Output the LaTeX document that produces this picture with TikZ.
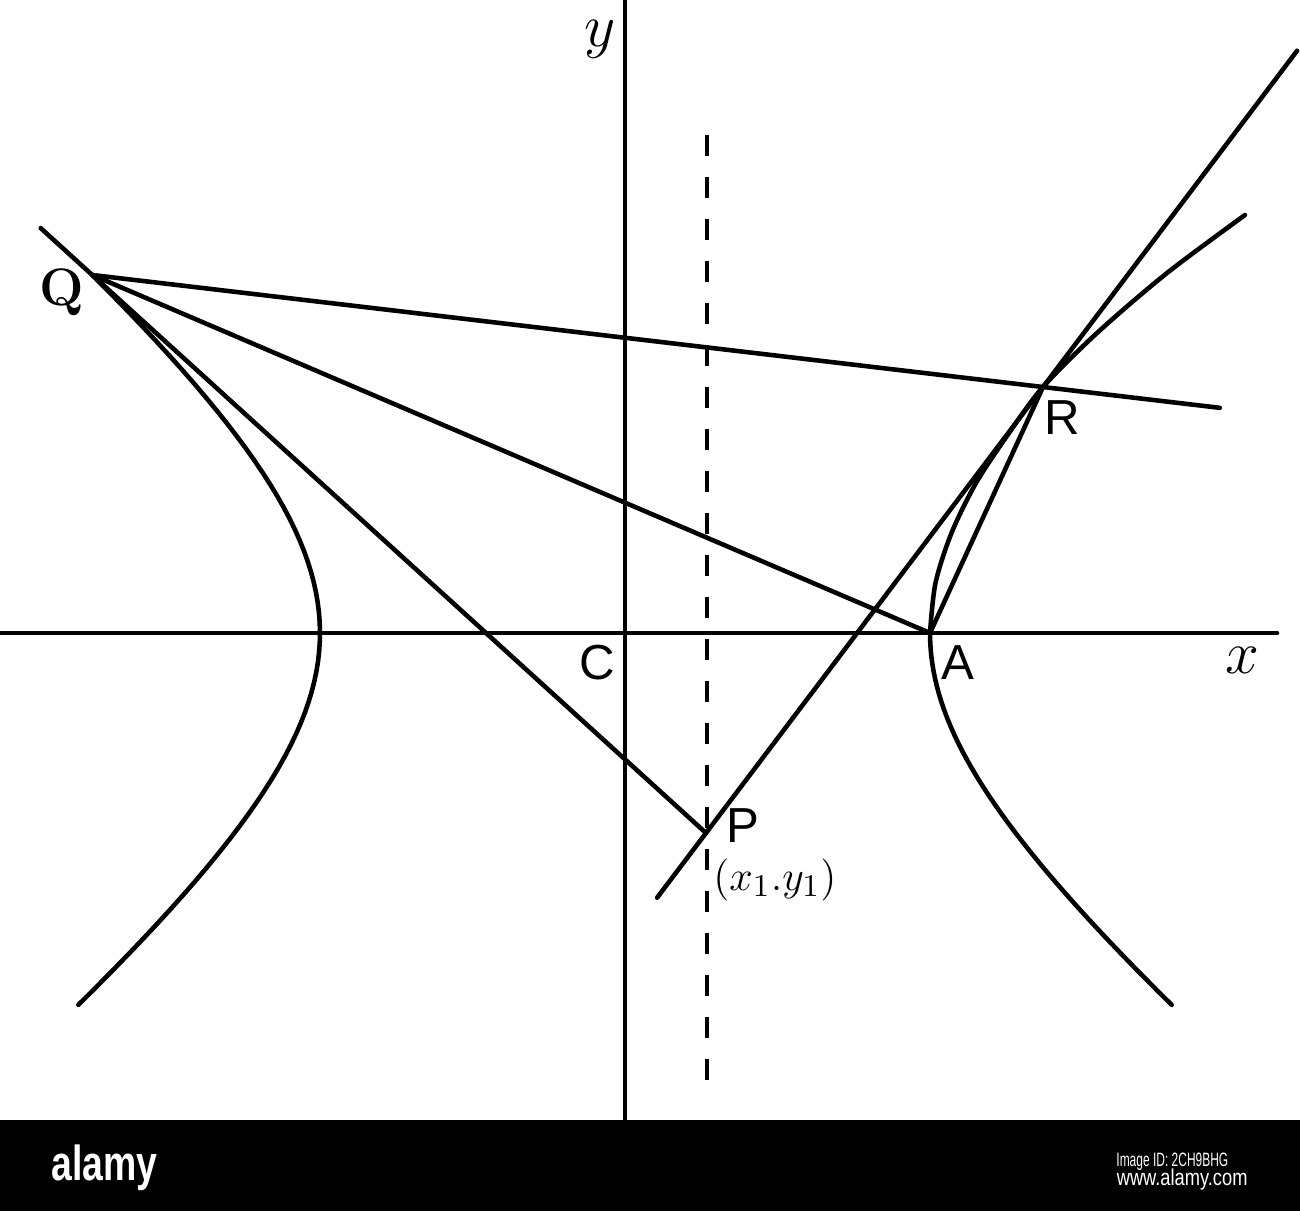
\documentclass[tikz,border=0pt]{standalone}
\usepackage{fontspec}
\setsansfont{Liberation Sans}
\usepackage{tikz}
\usetikzlibrary{calc}
\tikzset{lbl/.style={font=\sffamily\fontsize{14}{16}\selectfont,inner sep=0pt}}
\tikzset{axlbl/.style={font=\fontsize{16}{18}\selectfont,inner sep=0pt}}

\begin{document}
\begin{tikzpicture}[x=0.1mm,y=-0.1mm,line width=1.3pt,line cap=round]
	\useasboundingbox (0,0) rectangle (1300,1211);
	\coordinate (C) at (625,633);
	\coordinate (A) at (930,633);
	\coordinate (P) at (706,833);
	\coordinate (Q) at ({625-305*cosh(1.1565)},275);
	\coordinate (R) at (1043,387);
	\coordinate (x left) at (0,633);
	\coordinate (x right) at (1277,633);
	\coordinate (y top) at (625,0);
	\coordinate (y bottom) at (625,1120);
	\coordinate (dash top) at (707,135);
	\coordinate (dash bottom) at (707,1095);
	\coordinate (Q tail) at ($(P)!1.084!(Q)$);
	\coordinate (R tail) at ($(P)!1.754!(R)$);
	\coordinate (P tail) at ($(R)!1.145!(P)$);
	\coordinate (QR tail) at ($(Q)!1.186!(R)$);
	\draw (x left)--(x right);
	\draw (y top)--(y bottom);
	\draw[dash pattern=on 2.1mm off 2.1mm,line cap=butt] (dash top)--(dash bottom);
	\draw[domain=-1.1565:1.188,samples=60,variable=\t] plot ({625-305*cosh(\t)},{633+250*sinh(\t)});
	\draw[domain=0:1.188,samples=40,variable=\t] plot ({625+305*cosh(\t)},{633+250*sinh(\t)});
	\draw plot[smooth] coordinates {(930,633) (935.5,583) (951.5,533) (976,483) (1009,433) (1043,387) (1097,333) (1167,273) (1245,215)};
	\draw (Q tail)--(P);
	\draw (P tail)--(R tail);
	\draw (Q)--(QR tail);
	\draw (Q)--(A);
	\draw (A)--(R);
	\node[font=\bfseries\fontsize{15}{17}\selectfont,inner sep=0pt] (lbl Q) at (62,292) {Q};
	\node[lbl] (lbl C) at (597,663) {C};
	\node[lbl] (lbl A) at (958,663) {A};
	\node[lbl] (lbl R) at (1062,418) {R};
	\node[lbl] (lbl P) at (743,826) {P};
	\node[font=\fontsize{13}{15}\selectfont,inner sep=0pt,anchor=west] (lbl P xy) at (711,880) {$(x_1.y_1)$};
	\node[axlbl] (lbl y) at (600,39) {$y$};
	\node[axlbl] (lbl x) at (1242,660) {$x$};
	% stock banner
	\fill[black] (0,1120) rectangle (1300,1211);
	\node[font=\sffamily\bfseries\fontsize{14}{16}\selectfont,text=white,xscale=0.76,anchor=west,inner sep=0pt] (logo) at (50,1168) {alamy};
	\node[font=\sffamily\fontsize{5.5}{6.5}\selectfont,text=white,xscale=0.62,anchor=west,inner sep=0pt] (image id) at (1115,1162) {Image ID: 2CH9BHG};
	\node[font=\sffamily\fontsize{6.5}{7.5}\selectfont,text=white,xscale=0.8,anchor=west,inner sep=0pt] (site) at (1115,1180) {www.alamy.com};
\end{tikzpicture}
\end{document}
